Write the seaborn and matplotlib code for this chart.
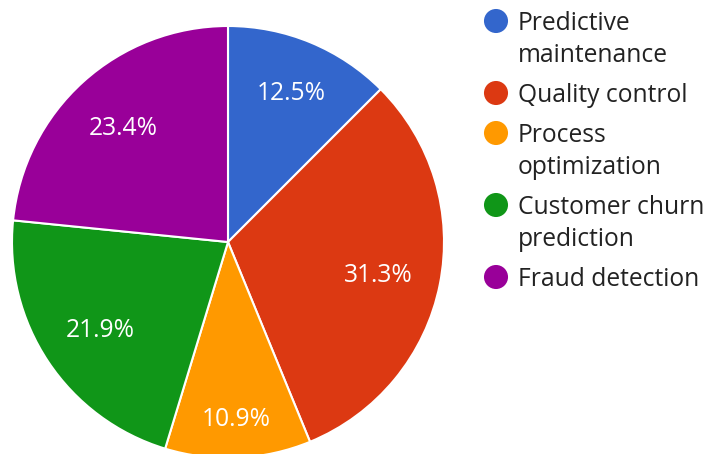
import matplotlib
matplotlib.use("Agg")
import numpy as np
import matplotlib.pyplot as plt
import seaborn as sns

# Data (percent shares)
categories = ["Predictive\nmaintenance", "Quality control", "Process\noptimization",
              "Customer churn\nprediction", "Fraud detection"]
shares = [12.5, 31.3, 10.9, 21.9, 23.4]
colors = ["#3366cc", "#dc3912", "#ff9900", "#109618", "#990099"]

sns.set_theme(style="white")
plt.rcParams["font.family"] = ["Open Sans", "DejaVu Sans"]

W, H = 707, 454
FS = 17.7
fig = plt.figure(figsize=(W / 100, H / 100), dpi=100)

# pie: center (228, 242) px, radius 216 px
cx, cy, r = 228, 242, 216
ax = fig.add_axes([(cx - r) / W, (H - cy - r) / H, 2 * r / W, 2 * r / H])
wedges, texts, autotexts = ax.pie(
    shares, colors=colors, startangle=90, counterclock=False,
    autopct="%.1f%%", pctdistance=0.75, radius=1,
    wedgeprops=dict(edgecolor="white", linewidth=1.5),
    textprops=dict(color="white", fontsize=FS),
)
ax.set_xlim(-1, 1)
ax.set_ylim(-1, 1)
ax.set_aspect("equal")
ax.axis("off")

# place each % label so its box sits just inside 0.875 R (google-style)
fig.canvas.draw()
rend = fig.canvas.get_renderer()
hh = FS * 100 / 72 / 2
for w, t in zip(wedges, autotexts):
    t.set_va("center_baseline")
    a = np.deg2rad((w.theta1 + w.theta2) / 2)
    ux, uy = np.cos(a), np.sin(a)
    hw = t.get_window_extent(rend).width / 2
    d = (0.875 * r - (hw * abs(ux) + hh * abs(uy))) / r
    t.set_position((d * ux, d * uy))

# legend drawn in pixel coords
lax = fig.add_axes([0, 0, 1, 1])
lax.set_xlim(0, W)
lax.set_ylim(H, 0)
lax.axis("off")
legend_y = [21, 93, 133, 205, 277]
for y, label, c in zip(legend_y, categories, colors):
    lax.scatter([496], [y], s=300, color=c, edgecolor="none")
    for i, line in enumerate(label.split("\n")):
        lax.text(518, y + 8.5 + i * 33, line, fontsize=FS, color="#222222",
                 ha="left", va="baseline")

fig.savefig("out.png", dpi=100)
